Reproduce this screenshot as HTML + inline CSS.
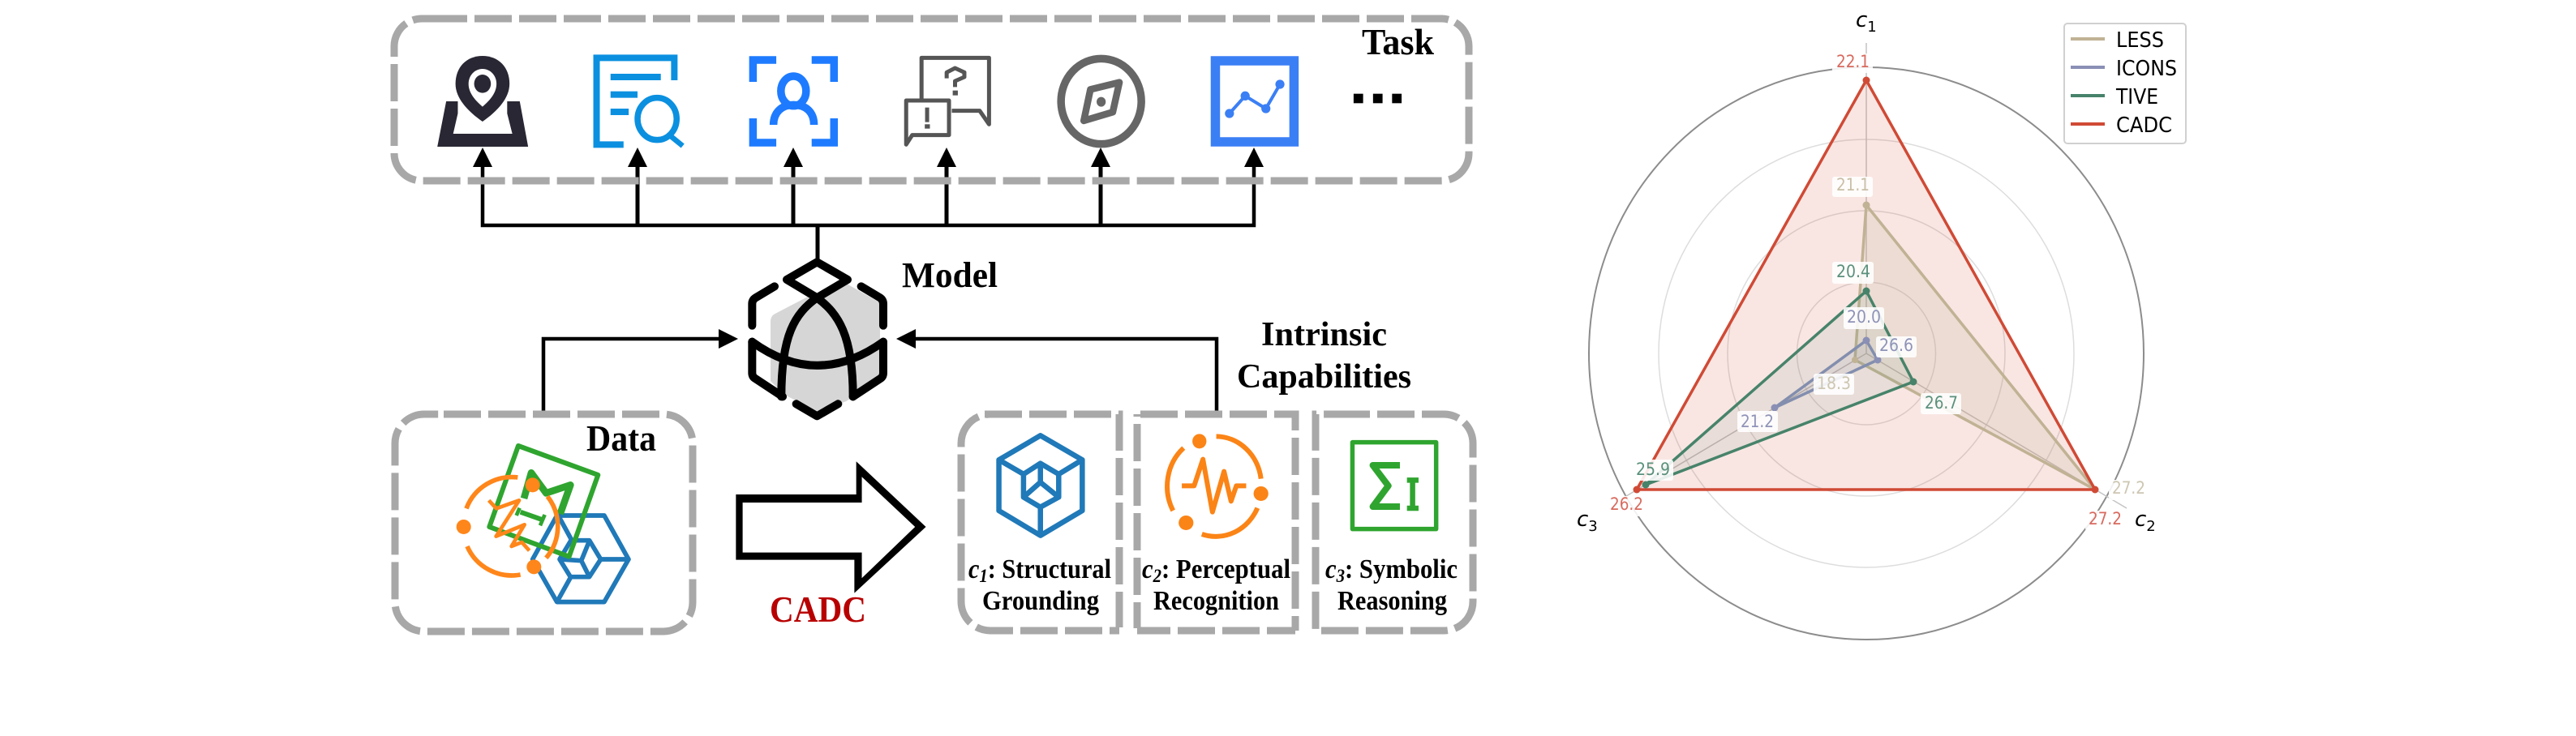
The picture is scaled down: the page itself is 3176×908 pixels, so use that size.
<!DOCTYPE html>
<html><head><meta charset="utf-8"><style>
html,body{margin:0;padding:0;background:#fff}
svg{display:block}
.n *{vector-effect:non-scaling-stroke}
.t{font-family:"Liberation Serif",serif;font-weight:bold;fill:#000}
.d{font-family:"DejaVu Sans",sans-serif}
.b{fill:none;stroke:#a8a8a8;stroke-width:9;stroke-dasharray:46 9}
</style></head><body>
<svg width="3176" height="908" viewBox="0 0 3176 908" xmlns="http://www.w3.org/2000/svg">
<rect width="3176" height="908" fill="#fff"/>

<!-- connectors -->
<g fill="none" stroke="#000" stroke-width="5">
<path d="M595 206V278H1546V206" stroke-width="4.5"/>
<path d="M786 206V278M978 206V278M1167 206V278M1357 206V278"/>
<path d="M1008 278V320"/>
<path d="M670 510V418H890" stroke-width="4.5"/>
<path d="M1500 512V418H1127" stroke-width="4.5"/>
</g>
<g fill="#000">
<path d="M595 182l-12 24h24zM786 182l-12 24h24zM978 182l-12 24h24zM1167 182l-12 24h24zM1357 182l-12 24h24zM1546 182l-12 24h24z"/>
<path d="M910 418l-24-12v24zM1105 418l24-12v24z"/>
</g>

<!-- dashed boxes -->
<path class="b" d="M530 23H1777A34 34 0 0 1 1811 57V189A34 34 0 0 1 1777 223H520A34 34 0 0 1 486 189V57A34 34 0 0 1 520 23H530"/>
<path class="b" d="M547 511H818A36 36 0 0 1 854 547V743A36 36 0 0 1 818 779H523A36 36 0 0 1 487 743V547A36 36 0 0 1 523 511H547"/>
<path class="b" d="M1214 511H1380V774"/>
<path class="b" style="stroke-dashoffset:34" d="M1380 778H1221A36 36 0 0 1 1185 742V547A36 36 0 0 1 1221 511H1214"/>
<path class="b" d="M1406 511H1597V778"/>
<path class="b" style="stroke-dashoffset:11" d="M1597 778H1402"/>
<path class="b" style="stroke-dashoffset:14" d="M1402 775V511"/>
<path class="b" d="M1643 511H1780A36 36 0 0 1 1816 547V742A36 36 0 0 1 1780 778H1622V511H1643"/>

<!-- top icons, zoom1 coords -->
<g class="n" transform="translate(460,0) scale(.574,.3333)">
<path d="M138 543H333L315 375H288V420L299 495H172L182 420V375H157Z" fill="#2a2734"/>
<path d="M235 207C270 207 293 250 293 310C293 370 260 420 235 450C210 420 177 370 177 310C177 250 200 207 235 207Z" fill="#2a2734"/>
<path d="M235 255C252 255 265 280 265 310C265 345 250 372 235 395C220 372 205 345 205 310C205 280 218 255 235 255Z" fill="#fff"/>
<ellipse cx="235" cy="310" rx="18" ry="34" fill="#2a2734"/>

<g fill="none" stroke="#0b90e0">
<path d="M538 535H480V214H647V297" stroke-width="8"/>
<ellipse cx="610" cy="440" rx="42" ry="78" stroke-width="7.5"/>
<path d="M640 505L665 540" stroke-width="6.5"/>
</g>
<g fill="#0b90e0"><rect x="510" y="273" width="108" height="24"/><rect x="510" y="338" width="58" height="24"/><rect x="510" y="402" width="39" height="24"/></g>

<g fill="none" stroke="#1e7bff" stroke-width="9.5">
<path d="M866 222H816V303M942 222H990V303M866 528H816V438M942 528H990V438"/>
<ellipse cx="903" cy="337" rx="27" ry="55"/>
<path d="M860 462C860 415 878 388 903 388C930 388 947 415 947 462"/>
</g>

<g fill="none" stroke="#555" stroke-width="5" stroke-linejoin="round">
<path d="M1178 367V214H1323V460L1303 410H1243"/>
<path d="M1145 372H1237V500H1158L1145 535Z"/>
<path d="M1232 290V268L1250 252L1270 268V285L1250 300V322"/>
<path d="M1190 398V452"/>
</g>
<rect x="1245" y="335" width="11" height="18" fill="#555"/><rect x="1185" y="460" width="11" height="16" fill="#555"/>
</g>

<g class="n" transform="translate(1100,0) scale(.5102,.3333)">
<ellipse cx="505" cy="375" rx="97" ry="158" fill="none" stroke="#666" stroke-width="9.5"/>
<path d="M549 305L479 331L463 447L533 415Z" fill="none" stroke="#666" stroke-width="8.5" stroke-linejoin="round"/>
<ellipse cx="505" cy="377" rx="11" ry="18" fill="#666"/>
<rect x="781" y="225" width="190" height="300" fill="none" stroke="#3b7ff5" stroke-width="11.5"/>
<path d="M815 420L853 355L903 402L937 312" fill="none" stroke="#3b7ff5" stroke-width="4"/>
<g fill="#3b7ff5"><ellipse cx="815" cy="420" rx="11" ry="17"/><ellipse cx="853" cy="355" rx="11" ry="17"/><ellipse cx="903" cy="402" rx="11" ry="17"/><ellipse cx="937" cy="312" rx="11" ry="17"/></g>
<g fill="#000"><rect x="1115" y="347" width="23" height="35"/><rect x="1162" y="347" width="23" height="35"/><rect x="1208" y="347" width="23" height="35"/></g>
</g>

<!-- model icon, zoom8 coords -->
<g transform="translate(900,290) scale(.3333)">
<path d="M150 320Q150 300 165 292L400 170Q420 165 440 185L555 250V535L430 615L325 655L200 590L150 540Z" fill="#d6d6d6"/>
<g fill="none" stroke="#000" stroke-width="30" stroke-linecap="round" stroke-linejoin="round">
<path d="M322 100L435 165L322 232L210 165Z" fill="#fff"/>
<path d="M165 190L95 232Q82 240 82 255V335M485 190L555 232Q567 240 567 255V335"/>
<path d="M82 395V510Q82 525 95 532L195 598M567 395V510Q567 525 555 532L455 598"/>
<path d="M82 395Q322 570 567 395"/>
<path d="M322 232C240 290 190 370 190 598M322 232C400 290 455 370 455 598"/>
<path d="M245 625L322 670L400 625"/>
</g>
</g>

<!-- data icon, zoom9 coords -->
<g transform="translate(540,520) scale(.3333)" fill="none" stroke-linejoin="round">
<g stroke="#2079b8" stroke-width="17">
<path d="M440 348H615L705 510L615 668H440L350 510Z"/>
<path d="M445 348L495 440M440 668L490 578M600 510H705"/>
<path d="M492 440H560L602 510L560 575H490L450 510Z"/>
<path d="M530 515L560 442M530 515L560 575M450 510L530 515"/>
</g>
<g stroke="#2fa52f">
<path d="M297 90L592 198L485 500L190 390Z" stroke-width="18"/>
<path d="M318 285L345 190L400 265L490 235L452 342" stroke-width="26"/>
<path d="M305 335L390 365" stroke-width="18"/><path d="M290 348L302 320M378 385L395 345" stroke-width="14"/>
</g>
<g stroke="#ff861a" stroke-width="17">
<path d="M295 207A180 180 0 0 0 105 322M405 277A180 180 0 0 1 400 505M108 462A180 180 0 0 0 305 567"/>
<path d="M188 292L216 322L300 292L215 425L320 382L272 462L310 447L338 478" stroke-width="14"/>
</g>
<g fill="#ff861a"><circle cx="350" cy="235" r="27"/><circle cx="95" cy="390" r="27"/><circle cx="355" cy="538" r="27"/></g>
</g>

<!-- hollow arrow, zoom3 coords -->
<g transform="translate(461,280) scale(.4592,.3333)">
<path fill-rule="evenodd" fill="#000" d="M972 990H1295V868L1482 1110L1290 1355V1232H972ZM990 1020V1205H1310V1300L1453 1110L1310 925V1020Z"/>
</g>

<!-- capability icons, zoom4 coords -->
<g class="n" transform="translate(1160,480) scale(.4337,.3333)" fill="none" stroke-linejoin="round">
<g stroke="#2079b8" stroke-width="6.5">
<path d="M283 172L402 262V450L283 542L165 450V262Z"/>
<path d="M165 262L235 315M402 262L335 315M283 275L335 315V400L283 437L235 400V315Z"/>
<path d="M283 345L335 400M283 345L235 400M283 275V345M283 437V542"/>
</g>
<g stroke="#fb8416" stroke-width="6">
<path d="M783 175A130 180 0 0 1 910 332M690 218A130 185 0 0 0 660 450M742 537A130 180 0 0 0 900 440" />
<path d="M685 358H720L745 260L772 455L805 305L825 415L840 358H868"/>
</g>
<g fill="#fb8416"><ellipse cx="735" cy="193" rx="20" ry="27"/><ellipse cx="910" cy="387" rx="21" ry="27"/><ellipse cx="697" cy="495" rx="21" ry="27"/></g>
<rect x="1170" y="197" width="238" height="321" stroke="#2fa52f" stroke-width="5.5"/>
<path d="M1305 282H1228L1272 358L1228 435H1305" stroke="#2fa52f" stroke-width="8"/>
<path d="M1341 335V443M1325 337H1358M1325 441H1358" stroke="#2fa52f" stroke-width="6.5"/>
</g>

<!-- serif labels -->
<g class="t">
<text x="1679" y="67" font-size="45" textLength="89" lengthAdjust="spacingAndGlyphs">Task</text>
<text x="1112" y="354" font-size="44" textLength="118" lengthAdjust="spacingAndGlyphs">Model</text>
<text x="1555" y="426" font-size="42" textLength="155" lengthAdjust="spacingAndGlyphs">Intrinsic</text>
<text x="1525" y="478" font-size="42" textLength="215" lengthAdjust="spacingAndGlyphs">Capabilities</text>
<text x="723" y="556" font-size="45" textLength="86" lengthAdjust="spacingAndGlyphs">Data</text>
<text x="949" y="767" font-size="45" textLength="119" lengthAdjust="spacingAndGlyphs" style="fill:#b80000">CADC</text>
<text x="1194" y="713" font-size="34" textLength="176" lengthAdjust="spacingAndGlyphs"><tspan font-style="italic">c</tspan><tspan font-style="italic" font-size="23" dy="5">1</tspan><tspan dy="-5">: Structural</tspan></text>
<text x="1211" y="752" font-size="34" textLength="144" lengthAdjust="spacingAndGlyphs">Grounding</text>
<text x="1408" y="713" font-size="34" textLength="183" lengthAdjust="spacingAndGlyphs"><tspan font-style="italic">c</tspan><tspan font-style="italic" font-size="23" dy="5">2</tspan><tspan dy="-5">: Perceptual</tspan></text>
<text x="1422" y="752" font-size="34" textLength="155" lengthAdjust="spacingAndGlyphs">Recognition</text>
<text x="1634" y="713" font-size="34" textLength="163" lengthAdjust="spacingAndGlyphs"><tspan font-style="italic">c</tspan><tspan font-style="italic" font-size="23" dy="5">3</tspan><tspan dy="-5">: Symbolic</tspan></text>
<text x="1649" y="752" font-size="34" textLength="135" lengthAdjust="spacingAndGlyphs">Reasoning</text>
</g>

<!-- radar -->
<g fill="none">
<ellipse cx="2301" cy="436" rx="85.5" ry="88" stroke="#ddd" stroke-width="1.5"/>
<ellipse cx="2301" cy="436" rx="171" ry="176" stroke="#ddd" stroke-width="1.5"/>
<ellipse cx="2301" cy="436" rx="256" ry="264" stroke="#ddd" stroke-width="1.5"/>
<ellipse cx="2301" cy="436" rx="342" ry="353" stroke="#8c8c8c" stroke-width="2"/>
<path d="M2301 53V436L2622 627M2301 436L2000 615" stroke="#c4c4c4" stroke-width="1.5"/>
</g>
<path d="M2301 99L2583 604H2018Z" fill="#d6503c" fill-opacity=".14"/>
<path d="M2301 253L2583 604L2287 444Z" fill="#c0b294" fill-opacity=".2" stroke="#c0b294" stroke-width="3.5" stroke-linejoin="round"/>
<path d="M2301 420L2315 444L2188 503Z" fill="#8a8fb5" fill-opacity=".1" stroke="#8a8fb5" stroke-width="3.5" stroke-linejoin="round"/>
<path d="M2301 359L2359 471L2029 598Z" fill="#47836a" fill-opacity=".09" stroke="#47836a" stroke-width="3.5" stroke-linejoin="round"/>
<path d="M2301 99L2583 604H2018Z" fill="none" stroke="#d04a35" stroke-width="3.5" stroke-linejoin="round"/>
<g fill="#c0b294"><circle cx="2301" cy="253" r="4.5"/><circle cx="2287" cy="444" r="4"/></g>
<g fill="#8a8fb5"><circle cx="2301" cy="420" r="4.5"/><circle cx="2315" cy="444" r="4.5"/><circle cx="2188" cy="503" r="4.5"/></g>
<g fill="#47836a"><circle cx="2301" cy="359" r="4.5"/><circle cx="2359" cy="471" r="4.5"/><circle cx="2029" cy="598" r="4.5"/></g>
<g fill="#d04a35"><circle cx="2301" cy="99" r="4.5"/><circle cx="2583" cy="604" r="4.5"/><circle cx="2018" cy="604" r="4.5"/></g>

<!-- value label backgrounds -->
<g fill="#fff" fill-opacity=".88">
<rect x="2259" y="66" width="50" height="24" rx="3"/>
<rect x="2259" y="218" width="50" height="25" rx="3"/>
<rect x="2259" y="323" width="51" height="27" rx="3"/>
<rect x="2273" y="379" width="50" height="27" rx="3"/>
<rect x="2313" y="415" width="50" height="26" rx="3"/>
<rect x="2236" y="461" width="50" height="26" rx="3"/>
<rect x="2142" y="507" width="50" height="26" rx="3"/>
<rect x="2368" y="485" width="50" height="26" rx="3"/>
<rect x="2013" y="567" width="50" height="26" rx="3"/>
<rect x="1981" y="612" width="50" height="25" rx="3"/>
<rect x="2600" y="592" width="50" height="25" rx="3"/>
<rect x="2571" y="630" width="50" height="25" rx="3"/>
</g>
<g class="d" font-size="21">
<text x="2264" y="83" fill="#d86a5e" textLength="41" lengthAdjust="spacingAndGlyphs">22.1</text>
<text x="2264" y="235" fill="#c9bfa6" textLength="41" lengthAdjust="spacingAndGlyphs">21.1</text>
<text x="2264" y="342" fill="#5a917c" textLength="42" lengthAdjust="spacingAndGlyphs">20.4</text>
<text x="2277" y="398" fill="#8f93b8" textLength="42" lengthAdjust="spacingAndGlyphs">20.0</text>
<text x="2317" y="433" fill="#8f93b8" textLength="42" lengthAdjust="spacingAndGlyphs">26.6</text>
<text x="2240" y="480" fill="#cdc6b2" textLength="42" lengthAdjust="spacingAndGlyphs">18.3</text>
<text x="2146" y="527" fill="#8f93b8" textLength="41" lengthAdjust="spacingAndGlyphs">21.2</text>
<text x="2373" y="504" fill="#5a917c" textLength="41" lengthAdjust="spacingAndGlyphs">26.7</text>
<text x="2017" y="586" fill="#5a917c" textLength="42" lengthAdjust="spacingAndGlyphs">25.9</text>
<text x="1985" y="629" fill="#d86a5e" textLength="41" lengthAdjust="spacingAndGlyphs">26.2</text>
<text x="2604" y="609" fill="#cdc6b2" textLength="41" lengthAdjust="spacingAndGlyphs">27.2</text>
<text x="2575" y="647" fill="#d86a5e" textLength="41" lengthAdjust="spacingAndGlyphs">27.2</text>
</g>

<!-- axis labels -->
<g class="d" fill="#000">
<text x="2288" y="33" font-size="26" font-style="italic">c<tspan font-size="18" font-style="normal" dy="6">1</tspan></text>
<text x="2632" y="649" font-size="26" font-style="italic">c<tspan font-size="18" font-style="normal" dy="6">2</tspan></text>
<text x="1944" y="649" font-size="26" font-style="italic">c<tspan font-size="18" font-style="normal" dy="6">3</tspan></text>
</g>

<!-- legend -->
<rect x="2545" y="29" width="150" height="148" rx="4" fill="#fff" fill-opacity=".9" stroke="#d0d0d0" stroke-width="2"/>
<g stroke-width="4">
<path d="M2553 48H2595" stroke="#c0b294"/>
<path d="M2553 83H2595" stroke="#8a8fb5"/>
<path d="M2553 118H2595" stroke="#47836a"/>
<path d="M2553 153H2595" stroke="#d04a35"/>
</g>
<g class="d" font-size="26" fill="#000">
<text x="2609" y="58" textLength="59" lengthAdjust="spacingAndGlyphs">LESS</text>
<text x="2609" y="93" textLength="75" lengthAdjust="spacingAndGlyphs">ICONS</text>
<text x="2609" y="128" textLength="52" lengthAdjust="spacingAndGlyphs">TIVE</text>
<text x="2609" y="163" textLength="69" lengthAdjust="spacingAndGlyphs">CADC</text>
</g>
</svg>
</body></html>
